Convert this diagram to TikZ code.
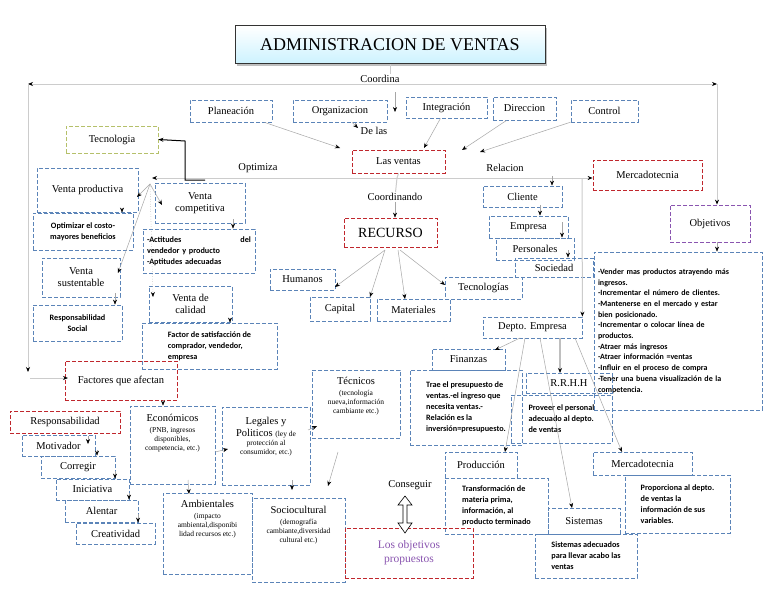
\documentclass[tikz,border=0pt]{standalone}
\usepackage{fontspec}
\setmainfont{Liberation Serif}
\newfontfamily\carfont{Carlito}
\usetikzlibrary{arrows.meta,shadows}
\definecolor{bl}{HTML}{5B84B8}
\definecolor{rd}{HTML}{C0272D}
\definecolor{gr}{HTML}{B5C06A}
\definecolor{pu}{HTML}{8A55B0}
\tikzset{
 bx/.style={draw=bl,dashed,dash pattern=on 4pt off 2pt,line width=0.8pt,inner sep=2pt,font=\fontsize{10.5}{12}\selectfont},
 rbx/.style={bx,draw=rd},
 sm/.style={font=\carfont\bfseries\fontsize{8.2}{11}\selectfont,align=left},
 ar/.style={draw=gray!70,line width=0.5pt,-{Stealth[black,length=5pt,width=4pt]}},
 ln/.style={draw=gray!40,line width=1pt},
 lbl/.style={font=\fontsize{10.5}{12}\selectfont,inner sep=1pt}
}
\newcommand\bx[7]{\node[#6,minimum width={(#4-#2)*1pt},minimum height={(#5-#3)*1pt}] (#1) at ({(#2+#4)/2},{(#3+#5)/2}) {#7};}
\newcommand\sub[1]{{\fontsize{7.5}{8}\selectfont #1}}
\begin{document}
\begin{tikzpicture}[x=1pt,y=-1pt]
\useasboundingbox (0,0) rectangle (768,594);
\fill[white] (0,0) rectangle (768,594);
% title
\node[draw=black!80,line width=1pt,top color=white,bottom color=blue!25!cyan!20,drop shadow={shadow xshift=2pt,shadow yshift=-2pt,opacity=.5},minimum width=310pt,minimum height=38pt,font=\fontsize{18}{20}\selectfont] (title) at (390,45) {ADMINISTRACION DE VENTAS};
% coordina
\coordinate (cl) at (28,84); \coordinate (cr) at (717,84); \coordinate (cm) at (390,84);
\draw[ln] (title.south) -- (cm);
\draw[ln,{Stealth[black,length=5pt,width=4pt]}-{Stealth[black,length=5pt,width=4pt]}] (cl) -- (cr);
\node[lbl,fill=white] (coord) at (380,79) {Coordina};
\coordinate (cd) at (395,112);
\draw[ar] (395,92) -- (cd);
\bx{plan}{190}{100}{272}{122}{bx}{Planeación}
\bx{org}{293}{100}{387}{122}{bx}{Organizacion}
\bx{int}{406}{97}{487}{118}{bx}{Integración}
\bx{dir}{493}{97}{556}{120}{bx}{Direccion}
\bx{con}{571}{100}{638}{122}{bx}{Control}
\node[lbl] (delas) at (374,131) {De las};
\bx{tec}{66}{126}{158}{153}{bx,draw=gr}{Tecnologia}
\bx{lv}{352}{150}{445}{173}{rbx}{Las ventas}
\draw[ar] (plan) -- (340,148);
\draw[ar] (org) -- (358,128);
\draw[ar] (int) -- (424,148);
\draw[ar] (dir) -- (462,150);
\draw[ar] (con) -- (480,152);
\node[lbl] (opt) at (258,168) {Optimiza};
\node[lbl] (rel) at (505,168) {Relacion};
\bx{merc}{593}{160}{702}{190}{rbx}{Mercadotecnia}
\coordinate (hc) at (397,178);
\coordinate (hl) at (152,178);
\draw[ln] (lv.south) -- (hc);
\draw[ar,draw=gray!40,line width=1pt] (hc) -- (hl);
\draw[ar,draw=gray!40,line width=1pt] (hc) -- (merc.west|-hc);
\draw[black,line width=1pt,-{Stealth[length=5pt,width=4pt]}] (205,180) -- (185,180) -- (185,141) -- (tec.east);
% left branch
\bx{vp}{37}{168}{138}{212}{bx}{Venta productiva\\[12pt]}
\bx{vc}{155}{183}{245}{223}{bx,align=center}{Venta\\competitiva}
\bx{opt2}{33}{213}{133}{250}{bx,sm,align=center}{Optimizar el costo-\\mayores beneficios}
\bx{act}{143}{229}{255}{273}{bx,sm,text width=104pt}{-Actitudes \hfill del\\vendedor y producto\\-Aptitudes adecuadas}
\bx{vs}{42}{258}{120}{297}{bx,align=center}{Venta\\sustentable}
\bx{vq}{149}{286}{232}{322}{bx,align=center}{Venta de\\calidad}
\bx{rs}{33}{305}{122}{341}{bx,sm,align=center}{Responsabilidad\\Social}
\bx{fs}{142}{323}{277}{369}{bx,sm}{Factor de satisfacción de\\comprador, vendedor,\\empresa}
\bx{fa}{65}{361}{177}{400}{rbx}{Factores que afectan\\[13pt]}
\coordinate (fan) at (150,184);
\draw[ar] (fan) -- (137,197);
\draw[ar] (fan) -- (162,205);
\draw[ar] (fan) -- (118,273);
\draw[ar,dotted] (fan) -- (153,297);
\draw[ar] (122,208) -- (opt2.north-|122,0);
\draw[ar] (233,219) -- (act.north-|233,0);
\draw[ar] (115,293) -- (rs.north-|115,0);
\draw[ar] (230,318) -- (fs.north-|230,0);
% left vertical
\draw[ar,draw=gray!40,line width=1pt] (cl) -- (28,372);
\draw[ar,draw=gray!40,line width=1pt] (30,378) -- (68,378);
% right vertical
\bx{obj}{670}{205}{750}{242}{bx,draw=pu}{Objetivos}
\draw[ar,draw=gray!40,line width=1pt] (cr) -- (obj.north-|cr);
\bx{ol}{594}{252}{762}{410}{bx,sm,text width=160pt,font=\carfont\bfseries\fontsize{8}{10.7}\selectfont}{-Vender mas productos atrayendo más\\ingresos.\\-Incrementar el número de clientes.\\-Mantenerse en el mercado y estar\\bien posicionado.\\-Incrementar o colocar línea de\\productos.\\-Atraer más ingresos\\-Atraer información =ventas\\-Influir en el proceso de compra\\-Tener una buena visualización de la\\competencia.}
\draw[ar] (obj.south-|717,0) -- (ol.north-|717,0);
% recurso
\node[lbl] (cdo) at (395,197) {Coordinando};
\bx{rec}{344}{218}{437}{247}{rbx,font=\fontsize{14}{15}\selectfont}{RECURSO}
\draw[ln] (hc) -- (cdo);
\draw[ar] (cdo) -- (rec.north-|cdo);
\bx{hum}{270}{269}{335}{290}{bx}{Humanos}
\bx{cap}{310}{297}{370}{321}{bx}{Capital}
\bx{mat}{377}{299}{450}{321}{bx}{Materiales}
\bx{tecs}{445}{277}{522}{299}{bx}{Tecnologías}
\draw[ar] (385,250) -- (335,287);
\draw[ar] (385,250) -- (370,297);
\draw[ar] (398,250) -- (405,299);
\draw[ar] (400,250) -- (445,285);
% relacion
\bx{cli}{483}{186}{562}{207}{bx}{Cliente}
\bx{emp}{489}{216}{568}{238}{bx}{Empresa}
\bx{per}{496}{238}{574}{260}{bx}{Personales}
\bx{soc}{515}{258}{593}{277}{bx}{Sociedad}
\draw[ar] (552,176) -- (cli.north-|552,0);
\draw[ar] (540,205) -- (emp.north-|540,0);
\draw[ar] (562,222) -- (per.north-|562,0);
\draw[ar] (568,250) -- (soc.north-|568,0);
\bx{dep}{483}{317}{582}{338}{bx}{Depto. Empresa}
\draw[ar,draw=gray!40,line width=1pt] (582,178) -- (dep.north east);
\bx{fin}{432}{349}{505}{370}{bx}{Finanzas}
\bx{fint}{410}{370}{522}{445}{bx,sm}{Trae el presupuesto de\\ventas.-el ingreso que\\necesita ventas.-\\Relación es la\\inversión=presupuesto.}
\bx{rh}{526}{373}{612}{393}{bx}{R.R.H.H}
\bx{rht}{511}{395}{612}{443}{bx,sm}{Proveer el personal\\adecuado al depto.\\de ventas}
\bx{pro}{445}{452}{517}{478}{bx}{Producción}
\bx{prot}{445}{478}{548}{534}{bx,sm}{Transformación de\\materia prima,\\información, al\\producto terminado}
\bx{mer2}{593}{452}{692}{475}{bx}{Mercadotecnia}
\bx{mert}{625}{475}{730}{533}{bx,sm}{Proporciona al depto.\\de ventas la\\información de sus\\variables.}
\bx{sis}{548}{508}{620}{534}{bx}{Sistemas}
\bx{sist}{535}{534}{637}{578}{bx,sm}{Sistemas adecuados\\para llevar acabo las\\ventas}
\draw[ar] (520,338) -- (495,350);
\draw[ar,draw=gray!50,line width=1.2pt] (560,338) -- (560,373);
\draw[ar] (525,338) -- (505,452);
\draw[ar] (540,338) -- (572,508);
\draw[ar] (575,338) -- (622,452);
% factores
\bx{tecn}{312}{370}{400}{438}{bx,align=center}{Técnicos\\[-1pt]\sub{(tecnología}\\[-3pt]\sub{nueva,información}\\[-3pt]\sub{cambiante etc.)}\\[6pt]}
\bx{eco}{130}{406}{215}{484}{bx,align=center}{Económicos\\[-1pt]\sub{(PNB, ingresos}\\[-3pt]\sub{disponibles,}\\[-3pt]\sub{competencia, etc.)}\\[14pt]}
\bx{leg}{222}{407}{310}{485}{bx,align=center}{Legales y\\Politicos \sub{(ley de}\\[-3pt]\sub{protección al}\\[-3pt]\sub{consumidor, etc.)}\\[8pt]}
\bx{amb}{163}{493}{252}{574}{bx,align=center}{Ambientales\\[-1pt]\sub{(impacto}\\[-3pt]\sub{ambiental,disponibi}\\[-3pt]\sub{lidad recursos etc.)}\\[18pt]}
\bx{soci}{252}{498}{345}{582}{bx,align=center}{Sociocultural\\[-1pt]\sub{(demografía}\\[-3pt]\sub{cambiante,diversidad}\\[-3pt]\sub{cultural etc.)}\\[20pt]}
\draw[ar] (163,400) -- (eco.north-|163,0);
\draw[ar] (215,452) -- (228,449);
\draw[ar] (308,430) -- (317,426);
\draw[ar] (338,452) -- (328,486);
\draw[ar] (292,480) -- (292,490);
\draw[ar] (188,480) -- (189,494);
\node[lbl] (cons) at (410,485) {Conseguir};
\bx{lop}{345}{528}{473}{578}{rbx,align=center,text=pu,font=\fontsize{11.5}{14}\selectfont}{Los objetivos\\propuestos}
\draw[black,line width=0.6pt,fill=white] (405,496) -- (412,505) -- (407,505) -- (407,523) -- (412,523) -- (405,533) -- (398,523) -- (403,523) -- (403,505) -- (398,505) -- cycle;
% responsabilidad chain
\bx{res}{10}{411}{120}{433}{rbx}{Responsabilidad}
\bx{mot}{22}{435}{95}{456}{bx}{Motivador}
\bx{cor}{41}{456}{115}{478}{bx}{Corregir}
\bx{ini}{56}{479}{129}{500}{bx}{Iniciativa}
\bx{ale}{65}{500}{138}{522}{bx}{Alentar}
\bx{cre}{76}{523}{155}{544}{bx}{Creatividad}
\draw[ar] (88,436) -- (88,444);
\draw[ar] (97,450) -- (cor.north-|97,0);
\draw[ar] (115,471) -- (ini.north-|115,0);
\draw[ar] (129,493) -- (ale.north-|129,0);
\draw[ar] (138,514) -- (cre.north-|138,0);
\end{tikzpicture}
\end{document}
